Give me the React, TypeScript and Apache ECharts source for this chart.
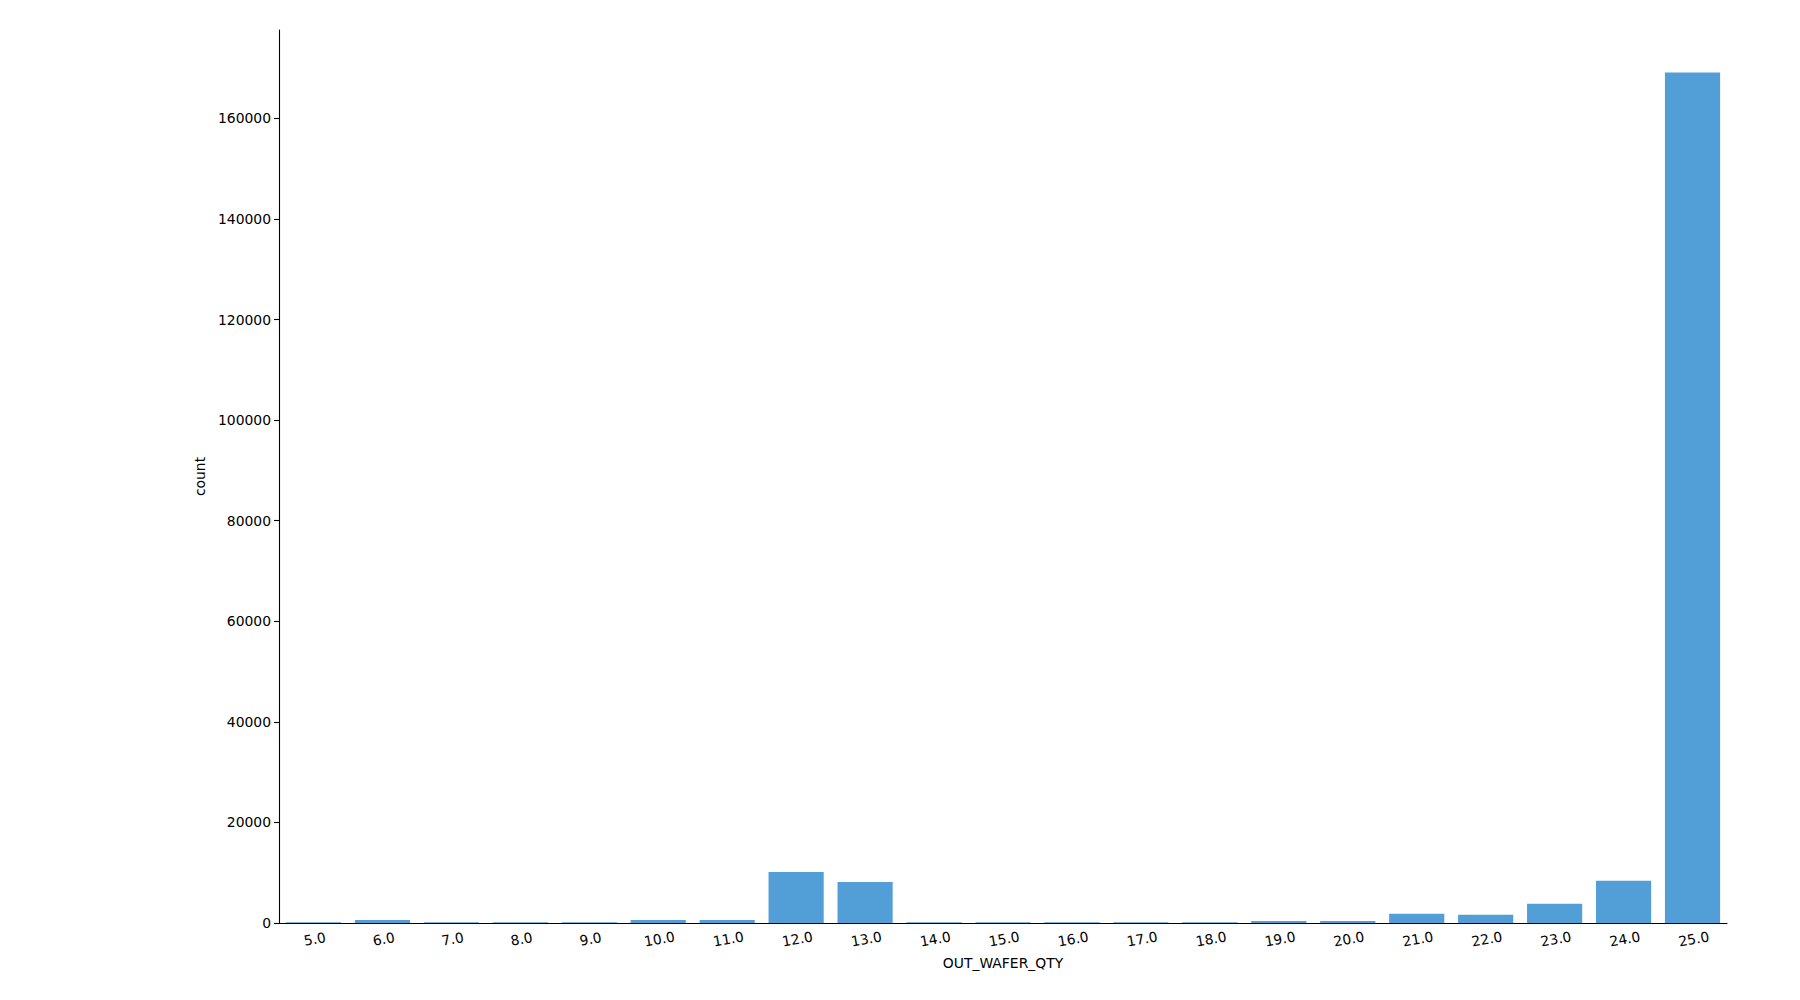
import React, { useEffect, useRef } from "react";
import * as echarts from "echarts";

const categories = ["5.0","6.0","7.0","8.0","9.0","10.0","11.0","12.0","13.0","14.0","15.0","16.0","17.0","18.0","19.0","20.0","21.0","22.0","23.0","24.0","25.0"];
const counts = [150, 600, 150, 150, 150, 600, 600, 10150, 8160, 150, 150, 150, 150, 150, 400, 400, 1850, 1650, 3840, 8420, 169150];
const yTicks = [0, 20000, 40000, 60000, 80000, 100000, 120000, 140000, 160000];
const yMax = 177600;

export default function App() {
  const ref = useRef<HTMLDivElement>(null);
  useEffect(() => {
    if (!ref.current) return;
    const chart = echarts.init(ref.current, null, { renderer: "svg" });
    const font = "DejaVu Sans";
    chart.setOption({
      animation: false,
      backgroundColor: "#ffffff",
      grid: { left: 279, right: 73, top: 30, bottom: 77, containLabel: false },
      xAxis: {
        type: "category",
        data: categories,
        boundaryGap: true,
        name: "OUT_WAFER_QTY",
        nameLocation: "middle",
        nameGap: 33,
        nameTextStyle: { fontFamily: font, fontSize: 13.9, color: "#000", verticalAlign: "top" },
        axisLine: { lineStyle: { color: "#000", width: 1.1 } },
        axisTick: { alignWithLabel: true, length: 5, lineStyle: { color: "#000", width: 1.1 } },
        axisLabel: {
          rotate: 10,
          align: "center",
          verticalAlign: "top",
          fontFamily: font,
          fontSize: 13.9,
          color: "#000",
          margin: 9,
          interval: 0,
        },
        splitLine: { show: false },
      },
      yAxis: {
        type: "value",
        min: 0,
        max: yMax,
        name: "count",
        nameLocation: "middle",
        nameGap: 59,
        nameRotate: 90,
        nameTextStyle: { fontFamily: font, fontSize: 13.9, color: "#000" },
        axisLine: { show: true, lineStyle: { color: "#000", width: 1.1 } },
        axisTick: { show: true, length: 5, customValues: yTicks, lineStyle: { color: "#000", width: 1.1 } },
        axisLabel: {
          customValues: yTicks,
          formatter: (v: number) => String(v),
          fontFamily: font,
          fontSize: 13.9,
          color: "#000",
          margin: 8,
        },
        splitLine: { show: false },
      },
      series: [
        {
          type: "bar",
          data: counts,
          barCategoryGap: "20%",
          itemStyle: { color: "#529fd7" },
        },
      ],
    });
    return () => chart.dispose();
  }, []);
  return <div ref={ref} style={{ position: "absolute", left: 0, top: 0, width: 1800, height: 1000 }} />;
}
